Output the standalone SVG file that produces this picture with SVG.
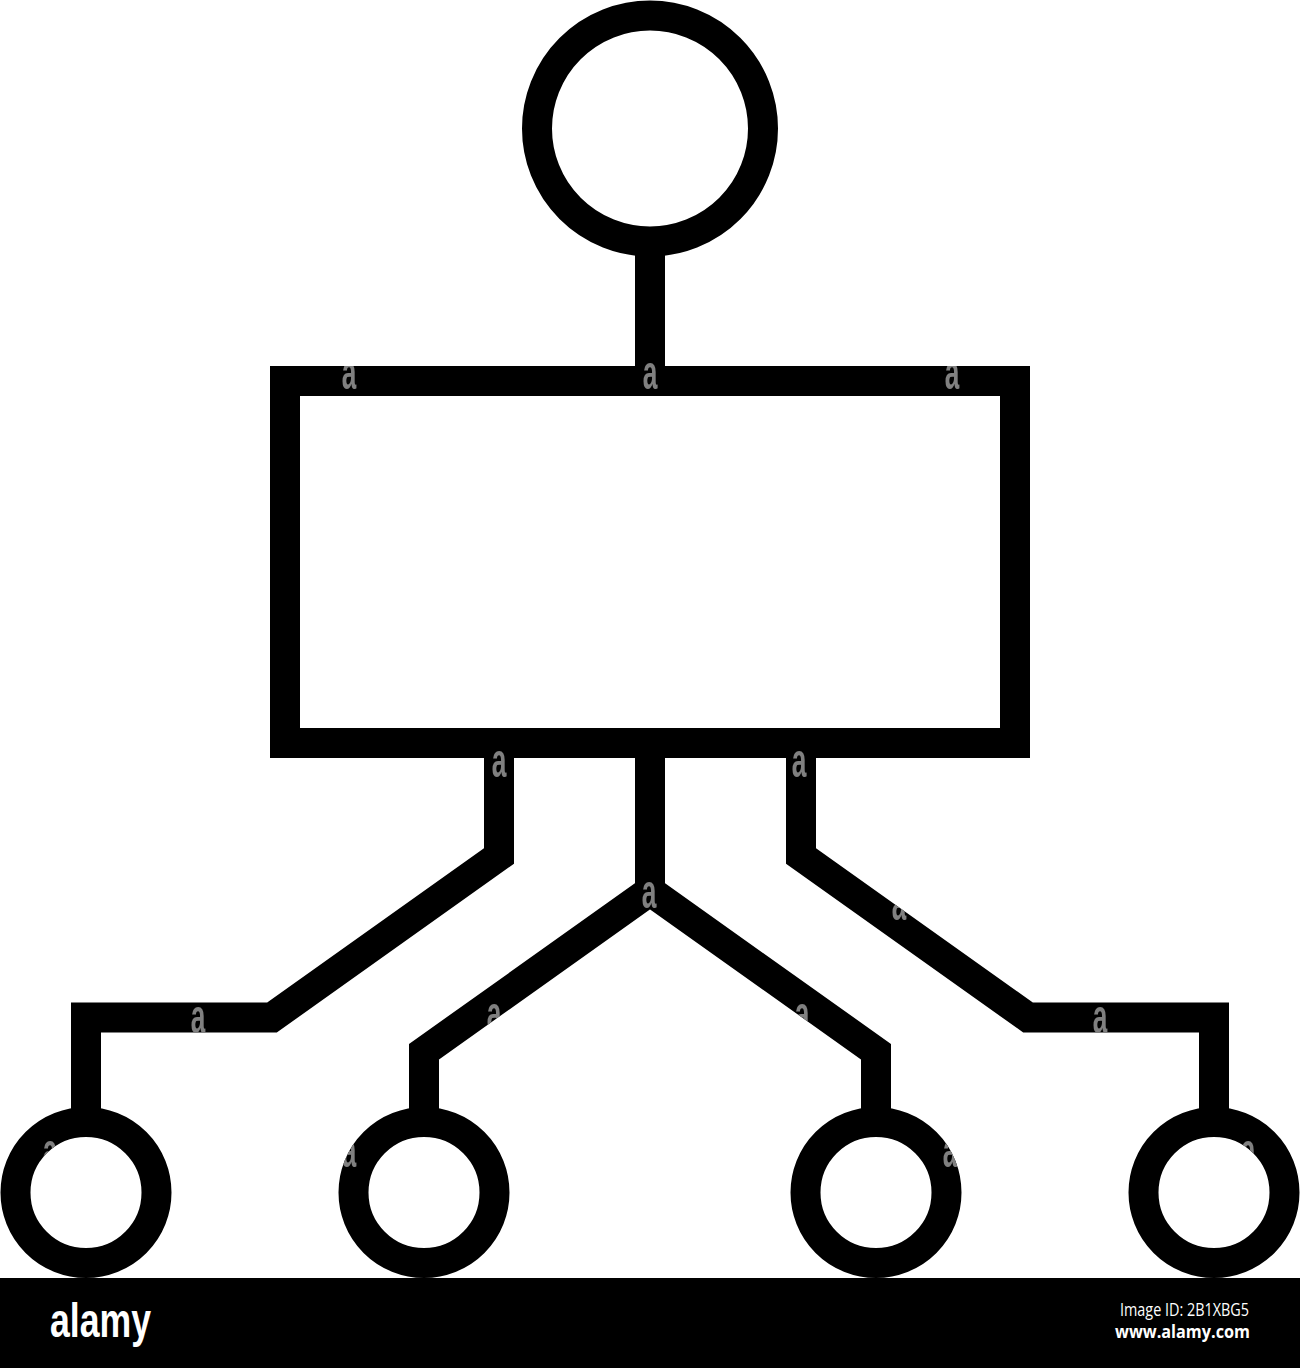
<svg xmlns="http://www.w3.org/2000/svg" xmlns:xlink="http://www.w3.org/1999/xlink" width="1300" height="1368" viewBox="0 0 1300 1368">
<style>
.ln{fill:none;stroke:#000;stroke-width:30;stroke-linejoin:miter;stroke-miterlimit:10;stroke-linecap:butt}
.wm{font-family:"Liberation Sans",Arial,sans-serif;font-weight:bold;font-size:48px;fill:#808080;text-anchor:middle}
.logo{font-family:"Liberation Sans",Arial,sans-serif;font-weight:bold;font-size:48px;fill:#fff}
.id{font-family:"Open Sans","Noto Sans",sans-serif;font-size:18px;fill:#fff}
</style>
<defs>
<mask id="wmask" maskUnits="userSpaceOnUse" x="0" y="0" width="1300" height="1368" style="mask-type:alpha">
<use href="#art" xlink:href="#art"/>
</mask>
</defs>
<rect width="1300" height="1368" fill="#fff"/>
<g id="art">
<g id="connectors">
<path class="ln" d="M650,240 V382"/>
<path class="ln" d="M499,742 V856 L272,1017.5 H86 V1126"/>
<path class="ln" d="M801,742 V856 L1028,1017.5 H1214 V1126"/>
<path class="ln" d="M650,742 V892"/>
<path class="ln" d="M424,1126 V1051.7 L650,891 L876,1051.7 V1126"/>
</g>
<g id="node-top"><circle class="ln" cx="650" cy="128.5" r="113"/></g>
<g id="node-box"><rect class="ln" x="285" y="381" width="730" height="362"/></g>
<g id="node-b1"><circle class="ln" cx="86" cy="1192.5" r="70.5"/></g>
<g id="node-b2"><circle class="ln" cx="424" cy="1192.5" r="70.5"/></g>
<g id="node-b3"><circle class="ln" cx="876" cy="1192.5" r="70.5"/></g>
<g id="node-b4"><circle class="ln" cx="1214" cy="1192.5" r="70.5"/></g>
</g>
<g id="watermarks" mask="url(#wmask)">
<text class="wm" transform="translate(349,389) scale(0.55,1)">a</text>
<text class="wm" transform="translate(650,389) scale(0.55,1)">a</text>
<text class="wm" transform="translate(952,389) scale(0.55,1)">a</text>
<text class="wm" transform="translate(499,777) scale(0.55,1)">a</text>
<text class="wm" transform="translate(799,777) scale(0.55,1)">a</text>
<text class="wm" transform="translate(649,908) scale(0.55,1)">a</text>
<text class="wm" transform="translate(899,920) scale(0.55,1)">a</text>
<text class="wm" transform="translate(198,1033) scale(0.55,1)">a</text>
<text class="wm" transform="translate(494,1030) scale(0.55,1)">a</text>
<text class="wm" transform="translate(802,1030) scale(0.55,1)">a</text>
<text class="wm" transform="translate(1100,1033) scale(0.55,1)">a</text>
<text class="wm" transform="translate(50,1167) scale(0.55,1)">a</text>
<text class="wm" transform="translate(349,1167) scale(0.55,1)">a</text>
<text class="wm" transform="translate(950,1167) scale(0.55,1)">a</text>
<text class="wm" transform="translate(1248,1167) scale(0.55,1)">a</text>
</g>
<g id="footer">
<rect x="0" y="1278" width="1300" height="90" fill="#000"/>
<text class="logo" x="50" y="1337" textLength="101" lengthAdjust="spacingAndGlyphs">alamy</text>
<text class="id" x="1120" y="1316" textLength="129" lengthAdjust="spacingAndGlyphs">Image ID: 2B1XBG5</text>
<text class="id" x="1115" y="1338" font-weight="bold" textLength="135" lengthAdjust="spacingAndGlyphs">www.alamy.com</text>
</g>
</svg>
